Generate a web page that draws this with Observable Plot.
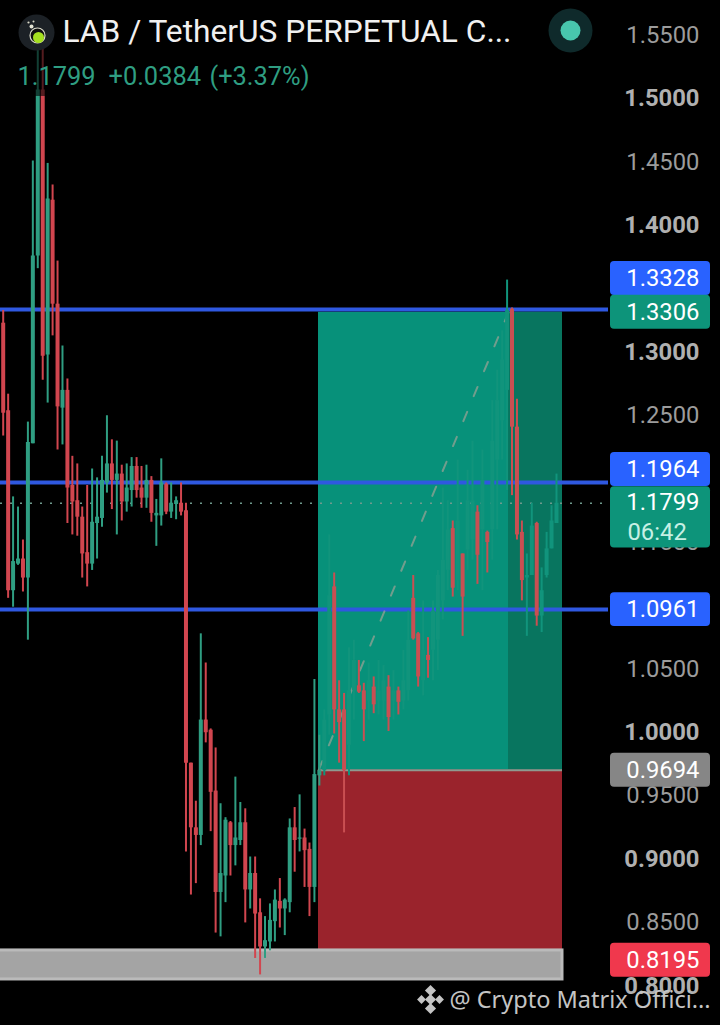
<!DOCTYPE html>
<html>
<head>
<meta charset="utf-8">
<style>
html,body{margin:0;padding:0;background:#000;width:720px;height:1025px;overflow:hidden}
svg{display:block}
</style>
<script src="https://cdn.jsdelivr.net/npm/d3@7"></script>
<script src="https://cdn.jsdelivr.net/npm/@observablehq/plot@0.6"></script>
</head>
<body>
<div id="chart"></div>
<script>
const open = [1.322,1.253,1.111,1.132,1.136,1.121,1.227,1.375,1.506,1.297,
1.419,1.337,1.255,1.269,1.194,1.182,1.169,1.141,1.132,1.164,
1.168,1.196,1.211,1.198,1.203,1.181,1.190,1.209,1.192,1.184,
1.198,1.170,1.170,1.195,1.173,1.179,1.180,1.174,0.975,0.924,
0.918,1.009,1.001,0.953,0.873,0.886,0.928,0.910,0.914,0.928,
0.875,0.888,0.857,0.830,0.834,0.850,0.866,0.860,0.865,0.924,
0.915,0.916,0.907,0.877,0.965,0.969,1.013,1.114,1.017,1.017,
0.989,1.032,1.036,1.032,1.024,1.035,1.024,1.024,1.035,1.024,
1.032,1.024,1.032,1.105,1.077,1.040,1.060,1.064,1.072,1.103,
1.127,1.160,1.119,1.140,1.143,1.151,1.173,1.159,1.157,1.159,
1.214,1.245,1.269,1.333,1.240,1.157,1.121,1.123,1.164,1.091,1.123,1.144,1.164];
const high = [1.332,1.266,1.185,1.177,1.151,1.244,1.450,1.541,1.539,1.448,
1.431,1.371,1.304,1.278,1.217,1.211,1.177,1.194,1.207,1.200,
1.217,1.249,1.230,1.229,1.210,1.211,1.216,1.216,1.209,1.210,
1.201,1.183,1.215,1.196,1.196,1.185,1.196,1.180,0.975,0.945,
1.077,1.054,1.002,0.987,0.943,0.932,0.929,0.964,0.944,0.939,
0.901,0.901,0.868,0.854,0.864,0.875,0.884,0.868,0.931,0.940,
0.950,0.923,0.912,1.041,0.997,1.017,1.155,1.125,1.040,1.030,
1.066,1.072,1.056,1.038,1.054,1.043,1.056,1.052,1.044,1.048,
1.035,1.064,1.095,1.123,1.078,1.103,1.074,1.103,1.127,1.192,
1.182,1.166,1.214,1.140,1.206,1.229,1.178,1.222,1.158,1.261,
1.285,1.316,1.356,1.334,1.262,1.166,1.140,1.180,1.165,1.129,1.157,1.178,1.203];
const low = [1.233,1.105,1.098,1.131,1.110,1.072,1.227,1.365,1.277,1.259,
1.312,1.222,1.226,1.164,1.155,1.154,1.121,1.114,1.127,1.136,
1.161,1.188,1.175,1.155,1.166,1.173,1.177,1.184,1.176,1.176,
1.165,1.146,1.162,1.171,1.168,1.167,1.170,0.905,0.871,0.880,
0.910,0.991,0.921,0.841,0.838,0.865,0.886,0.894,0.910,0.849,
0.860,0.821,0.808,0.821,0.827,0.834,0.845,0.839,0.857,0.889,
0.905,0.877,0.854,0.865,0.957,0.965,0.997,0.998,0.975,0.920,
0.965,1.009,1.030,0.992,1.009,1.014,1.013,1.009,1.000,1.009,
1.013,1.017,1.024,1.072,1.035,1.028,1.042,1.040,1.048,1.088,
1.111,1.106,1.111,1.075,1.127,1.135,1.116,1.111,1.125,1.135,
1.159,1.214,1.190,1.186,1.151,1.103,1.075,1.123,1.083,1.078,1.121,1.144,1.164];
const close = [1.251,1.111,1.134,1.136,1.121,1.228,1.375,1.506,1.296,1.420,
1.337,1.256,1.269,1.192,1.181,1.169,1.140,1.132,1.165,1.169,
1.198,1.211,1.198,1.203,1.181,1.192,1.209,1.190,1.184,1.198,
1.172,1.172,1.196,1.173,1.180,1.182,1.173,0.975,0.924,0.918,
1.009,0.999,0.952,0.873,0.888,0.930,0.910,0.916,0.928,0.875,
0.888,0.856,0.830,0.835,0.851,0.867,0.860,0.867,0.924,0.914,
0.916,0.906,0.877,0.966,0.969,1.009,1.107,1.017,1.007,0.969,
1.032,1.056,1.031,1.017,1.040,1.021,1.032,1.040,1.011,1.032,
1.023,1.040,1.072,1.073,1.043,1.064,1.056,1.095,1.123,1.135,
1.159,1.113,1.166,1.106,1.182,1.182,1.139,1.198,1.149,1.229,
1.261,1.293,1.332,1.240,1.155,1.119,1.123,1.162,1.091,1.111,1.144,1.166,1.180];

const regularTicks = [1.55,1.45,1.25,1.15,1.05,0.95,0.85];
const boldTicks = [1.5,1.4,1.3,1.0,0.9,0.8];
const levels = [1.3328,1.1964,1.0961];
const lastPrice = 1.1799;
const target = 1.3306, entry = 0.9694, stop = 0.8195;
const stopBandTop = 0.8273, stopBandBottom = 0.8044;

const candles = open.map((o,i)=>({i,o,h:high[i],l:low[i],c:close[i]}));
const GREEN="#2f9e82", RED="#d1464f", BOX_GREEN="#11947c", BOX_RED="#c94f52";
const inBox = d => d.i>=65;
const col = d => d.c>=d.o ? (inBox(d)?BOX_GREEN:GREEN) : (inBox(d)?BOX_RED:RED);

// pixel-to-index helper for annotations laid out against the window
const xi = px => (px-2.7)/4.94;
const band = (x1,x2,y1,y2,opts) => Plot.rect([0],{x1:()=>xi(x1),x2:()=>xi(x2),y1:()=>y1,y2:()=>y2,...opts});
const tagX1=xi(610), tagX2=xi(710), tagTextX=xi(699), halfTag=0.0134, TAGFONT=23.8;
const tag = (value,fill,dy) => [
  Plot.rect([value],{x1:()=>tagX1,x2:()=>tagX2,y1:d=>d-halfTag,y2:d=>d+halfTag,fill,rx:4,dy}),
  Plot.text([value],{x:()=>tagTextX,y:d=>d,text:d=>d.toFixed(4),fill:"#fff",fontSize:TAGFONT,textAnchor:"end",dy})
];
const FONT="Roboto, sans-serif";
const TL = {frameAnchor:"top-left",lineAnchor:"middle",textAnchor:"start"};

const chart = Plot.plot({
  width:720,height:1025,margin:0,
  style:{background:"#000",fontFamily:FONT},
  x:{type:"linear",domain:[xi(0),xi(720)],range:[0,720],axis:null},
  y:{type:"linear",domain:[0.7681,1.5765],range:[1025,0],axis:null},
  marks:[
    Plot.axisY(regularTicks,{anchor:"right",tickSize:0,tickPadding:0,dx:-21,dy:1,textAnchor:"end",tickFormat:d3.format(".4f"),fontSize:TAGFONT,fill:"#9c9c9c",label:null}),
    Plot.axisY(boldTicks,{anchor:"right",tickSize:0,tickPadding:0,dx:-21,dy:1,textAnchor:"end",tickFormat:d3.format(".4f"),fontSize:TAGFONT,fontWeight:"bold",fill:"#b0b0b0",label:null}),

    // position box
    band(318,562,entry,target,{fill:"#07917a"}),
    band(508,562,entry,target,{fill:"#08755f"}),
    band(318,562,stopBandTop,entry,{fill:"#9a232c"}),
    Plot.ruleY([entry],{x1:()=>xi(318),x2:()=>xi(562),stroke:"#8f9a90",strokeWidth:2}),
    band(-3,562,stopBandBottom,stopBandTop,{fill:"#a4a4a4",stroke:"#bababa",strokeWidth:3}),

    // key levels
    Plot.ruleY(levels,{x1:()=>xi(0),x2:()=>xi(608),stroke:"#2f58e0",strokeWidth:4}),
    Plot.ruleY([lastPrice],{x1:()=>xi(0),x2:()=>xi(608),stroke:"#6f9a8d",strokeWidth:1.5,strokeDasharray:"2 8"}),

    // entry-to-target dashed path
    Plot.line([[xi(318),entry],[xi(508),target],[xi(494),target-0.003]],{x:d=>d[0],y:d=>d[1],stroke:"#c9a79d",strokeOpacity:0.55,strokeWidth:2,strokeDasharray:"10 17"}),

    // candles
    Plot.ruleX(candles,{x:"i",y1:"l",y2:"h",stroke:col,strokeWidth:2}),
    Plot.ruleX(candles,{x:"i",y1:"o",y2:"c",stroke:col,strokeWidth:4}),

    // header dim
    band(0,620,1.5008,1.5765,{fill:"#000",fillOpacity:0.6}),

    // tags
    ...tag(1.3328,"#2962ff",-31),
    ...tag(1.3306,"#0d947a",0),
    ...tag(1.1964,"#2962ff",-13),
    Plot.rect([lastPrice],{x1:()=>tagX1,x2:()=>tagX2,y1:d=>d-0.0241,y2:d=>d+0.0241,fill:"#0d947a",rx:4,dy:14}),
    Plot.text([lastPrice],{x:()=>tagTextX,y:d=>d,text:d=>d.toFixed(4),fill:"#fff",fontSize:TAGFONT,textAnchor:"end",dy:-1}),
    Plot.text(["06:42"],{x:()=>xi(627),y:()=>lastPrice,text:d=>d,fill:"#c6f0e4",fontSize:TAGFONT,textAnchor:"start",dy:29}),
    ...tag(1.0961,"#2962ff",0),
    ...tag(0.9694,"#868686",0),
    ...tag(0.8195,"#f0384d",0),

    // title block
    Plot.dot([0],{...TL,dx:36,dy:32,r:18,fill:"#1c2126"}),
    Plot.dot([0],{...TL,dx:37,dy:35,r:7.5,fill:"#111",stroke:"#d9d9c8",strokeWidth:1.2}),
    Plot.dot([0],{...TL,dx:38,dy:37,r:5.5,fill:"#a5e020"}),
    Plot.dot([0],{...TL,dx:31,dy:26,r:2,fill:"#e4e4d4"}),
    Plot.dot([0],{...TL,dx:28,dy:22,r:1.1,fill:"#d9d9c8"}),
    Plot.dot([0],{...TL,dx:33,dy:21,r:1,fill:"#d9d9c8"}),
    Plot.dot([0],{...TL,dx:570,dy:30,r:22,fill:"#0f2a2b"}),
    Plot.dot([0],{...TL,dx:570,dy:30,r:10,fill:"#48c6ad"}),
    Plot.text(["LAB / TetherUS PERPETUAL C..."],{...TL,dx:62,dy:31,text:d=>d,fill:"#f0f0f0",fontSize:31.7}),
    Plot.text(["1.1799"],{...TL,dx:17,dy:76,text:d=>d,fill:GREEN,fontSize:25.4}),
    Plot.text(["+0.0384"],{...TL,dx:108,dy:76,text:d=>d,fill:GREEN,fontSize:25.4}),
    Plot.text(["(+3.37%)"],{...TL,dx:209,dy:76,text:d=>d,fill:GREEN,fontSize:25.4}),

    // watermark
    ...[[430,990,5],[430,999,5],[430,1008,5],[421,999,4],[439,999,4]].map(([dx,dy,r])=>
      Plot.dot([0],{frameAnchor:"top-left",dx,dy,r,symbol:"diamond2",fill:"#c4c4c4"})),
    Plot.text(["@ Crypto Matrix Offici..."],{...TL,dx:449,dy:1000,text:d=>d,fill:"#c4c4c4",fontFamily:"'Noto Sans', sans-serif",fontSize:23.5})
  ]
});
document.getElementById("chart").appendChild(chart);
</script>
</body>
</html>
